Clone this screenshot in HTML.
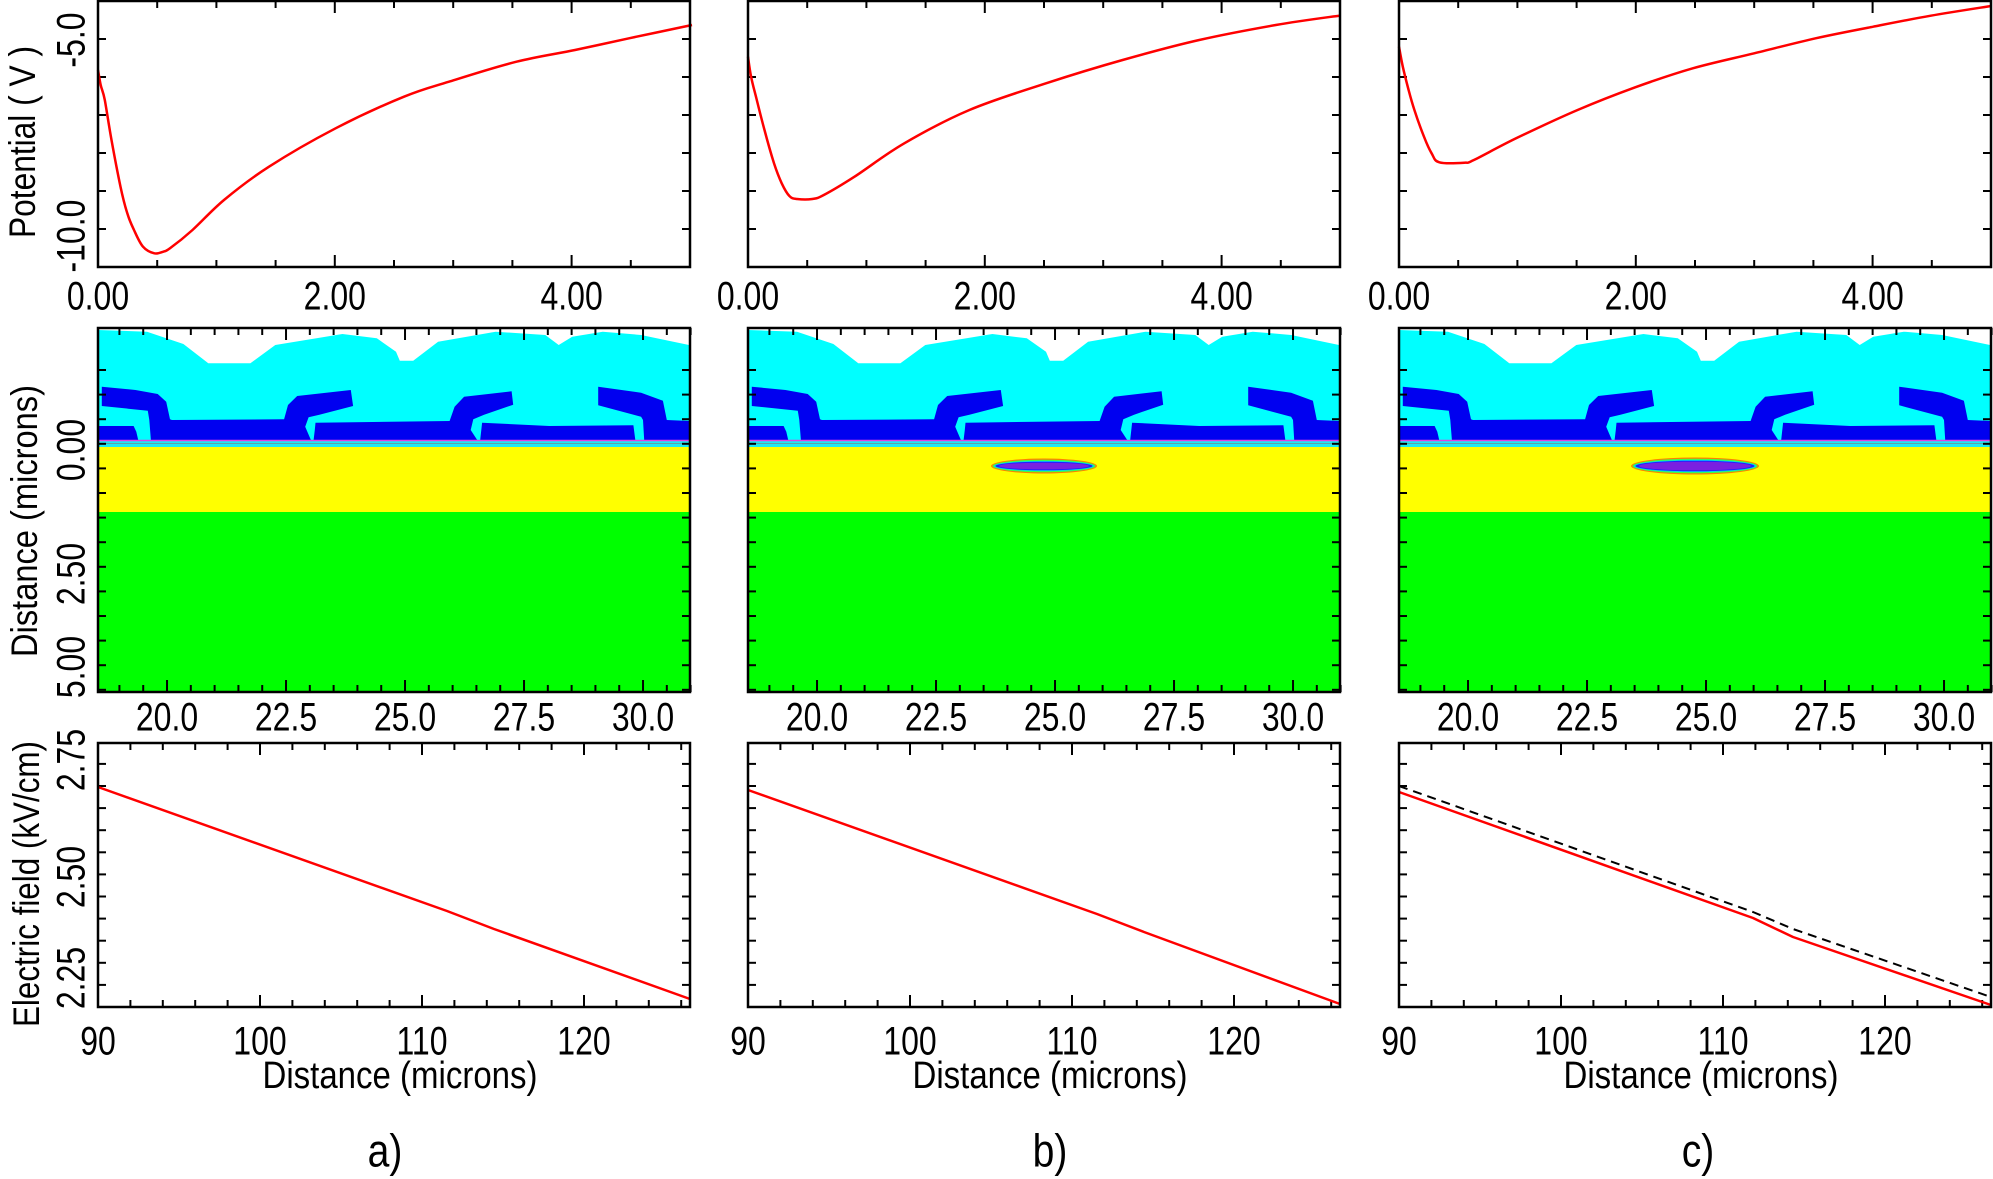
<!DOCTYPE html>
<html><head><meta charset="utf-8">
<style>
html,body{margin:0;padding:0;background:#fff;}
svg{display:block;}
text{font-family:"Liberation Sans",Arial,sans-serif;fill:#000;}
</style></head>
<body>
<svg id="s" xmlns="http://www.w3.org/2000/svg" width="1993" height="1179" viewBox="0 0 1993 1179"></svg>
<script>
var S=document.getElementById('s');var h='';
var X0=[98,748,1399],W=592;
var FS=40,SX=0.8;
function T(x,y,s,fs,rot,sx){sx=sx||1;
 h+='<text transform="translate('+x+','+y+')'+(rot?' rotate(-90)':'')+' scale('+sx+',1)" x="0" y="'+(0.36*fs)+'" font-size="'+fs+'" text-anchor="middle">'+s+'</text>';}
function L(x1,y1,x2,y2,w,c){h+='<line x1="'+x1+'" y1="'+y1+'" x2="'+x2+'" y2="'+y2+'" stroke="'+(c||'#000')+'" stroke-width="'+(w||2)+'"/>';}
function PL(pts,c,w,dash){h+='<polyline fill="none" stroke="'+c+'" stroke-width="'+w+'" stroke-linejoin="round" '+(dash?'stroke-dasharray="'+dash+'" ':'')+'points="'+pts.map(function(p){return p[0].toFixed(1)+','+p[1].toFixed(1)}).join(' ')+'"/>';}
function SM(p,c,w){var d='M'+p[0][0].toFixed(1)+','+p[0][1].toFixed(1);
 for(var i=0;i<p.length-1;i++){var p0=p[i>0?i-1:i],p1=p[i],p2=p[i+1],p3=p[i+2<p.length?i+2:i+1];
  var c1=[p1[0]+(p2[0]-p0[0])/6,p1[1]+(p2[1]-p0[1])/6],c2=[p2[0]-(p3[0]-p1[0])/6,p2[1]-(p3[1]-p1[1])/6];
  d+=' C'+c1[0].toFixed(1)+','+c1[1].toFixed(1)+' '+c2[0].toFixed(1)+','+c2[1].toFixed(1)+' '+p2[0].toFixed(1)+','+p2[1].toFixed(1);}
 h+='<path d="'+d+'" fill="none" stroke="'+c+'" stroke-width="'+w+'"/>';}
function PG(pts,c){h+='<polygon fill="'+c+'" points="'+pts.map(function(p){return p[0].toFixed(1)+','+p[1].toFixed(1)}).join(' ')+'"/>';}
function frame(x0,y0,y1){h+='<rect x="'+x0+'" y="'+y0+'" width="'+W+'" height="'+(y1-y0)+'" fill="none" stroke="#000" stroke-width="2.5"/>';}
function xt(x,y0,y1,len){L(x,y1,x,y1-len,2);L(x,y0,x,y0+len,2);}
function yt(x0,y,len){L(x0,y,x0+len,y,2);L(x0+W,y,x0+W-len,y,2);}

var ca=[[220,210],[226,255],[235,300],[250,420],[270,560],[285,640],[300,690],[320,740],[345,760],[365,755],[380,745],[430,690],[500,600],[600,500],[748,385],[900,290],[1000,245],[1150,185],[1280,150],[1400,115],[1540,75]].map(function(p){return [(p[0]-220)*0.45,p[1]/3]});
var cb=[[22,170],[30,230],[45,300],[65,390],[90,490],[110,550],[130,588],[150,597],[190,597],[220,585],[300,530],[430,430],[600,330],[800,250],[1000,180],[1200,120],[1400,75],[1565,47]].map(function(p){return [(p[0]-22)*0.383,p[1]/3]});
var cc=[[15,140],[25,200],[40,270],[55,330],[80,410],[100,460],[120,487],[185,488],[210,480],[320,415],[480,330],[630,262],[780,205],[940,160],[1100,115],[1250,80],[1400,47],[1557,18]].map(function(p){return [(p[0]-15)*0.384,p[1]/3]});
var curves=[ca,cb,cc];

function cv(a){return a.map(function(p){return [(p[0]-22)*0.383,320+p[1]/3]});}
var cyan=cv([[22,30],[150,35],[245,72],[310,130],[420,130],[485,75],[660,42],[750,55],[800,95],[810,122],[845,122],[910,65],[1060,35],[1190,45],[1225,75],[1260,50],[1340,35],[1440,45],[1565,75],[1565,380],[22,380]]);
var blues=[
 cv([[22,318],[115,318],[122,335],[127,360],[22,360]]),
 cv([[32,200],[120,210],[178,222],[200,245],[210,298],[215,300],[508,298],[518,255],[542,228],[682,210],[688,258],[600,284],[572,292],[563,320],[578,360],[160,360],[156,300],[152,272],[32,258]]),
 cv([[590,308],[940,303],[953,260],[978,230],[1102,214],[1106,254],[1030,284],[1002,298],[995,330],[1012,360],[585,360],[588,330]]),
 cv([[1025,308],[1200,318],[1420,316],[1425,360],[1020,360]]),
 cv([[1328,200],[1440,218],[1497,242],[1507,300],[1565,303],[1565,360],[1448,360],[1445,300],[1440,290],[1328,256]])
];

for(var i=0;i<3;i++){
 var x0=X0[i];
 for(var v=0;v<=5.001;v+=0.5){var x=x0+v*W/5;var mj=Math.abs(v%2)<0.01;xt(x,1,267,mj?12:7);}
 for(var V=-10;V<=-5;V++){yt(x0,267-(V+11)*38,8);}
 SM(curves[i].map(function(p){return [x0+p[0],p[1]]}),'#ff0000',2.5);
 frame(x0,1,267);
 ['0.00','2.00','4.00'].forEach(function(s,k){T(x0+k*2*W/5,295,s,FS,false,SX);});
 var yA=328,yB=692;
 h+='<rect x="'+x0+'" y="'+yA+'" width="'+W+'" height="'+(yB-yA)+'" fill="#fff"/>';
 PG(cyan.map(function(p){return [x0+p[0],p[1]]}),'#00ffff');
 blues.forEach(function(b){PG(b.map(function(p){return [x0+p[0],p[1]]}),'#0000f0');});
 h+='<rect x="'+x0+'" y="440" width="'+W+'" height="7" fill="#20e8f0"/>';
 L(x0,440.5,x0+W,440.5,1.5,'#e040e0');L(x0,443.5,x0+W,443.5,1,'#60a0a8');
 h+='<rect x="'+x0+'" y="447" width="'+W+'" height="65" fill="#ffff00"/>';
 h+='<rect x="'+x0+'" y="512" width="'+W+'" height="'+(yB-512)+'" fill="#00ff00"/>';
 if(i>0){var ex=x0+296,ey=466,rx=i==1?53:64,ry=i==1?7.5:8.5;
  h+='<ellipse cx="'+ex+'" cy="'+ey+'" rx="'+rx+'" ry="'+ry+'" fill="#ff8000"/>';
  h+='<ellipse cx="'+ex+'" cy="'+ey+'" rx="'+(rx-1.5)+'" ry="'+(ry-1.2)+'" fill="#40ff40"/>';
  h+='<ellipse cx="'+ex+'" cy="'+ey+'" rx="'+(rx-3)+'" ry="'+(ry-2.4)+'" fill="#00d0ff"/>';
  h+='<ellipse cx="'+ex+'" cy="'+ey+'" rx="'+(rx-4.5)+'" ry="'+(ry-3.2)+'" fill="#2020ff"/>';
  h+='<ellipse cx="'+ex+'" cy="'+ey+'" rx="'+(rx-8)+'" ry="'+(ry-4.2)+'" fill="#7a20e0"/>';}
 for(var v=19;v<=31.001;v+=0.5){var x=x0+(v-18.55)*47.6;var mj=Math.abs((v-20)/2.5-Math.round((v-20)/2.5))<0.01;xt(x,yA,yB,mj?12:7);}
 for(var y=370;y<690;y+=24.6){yt(x0,y,8);}
 frame(x0,yA,yB);
 ['20.0','22.5','25.0','27.5','30.0'].forEach(function(s,k){T(x0+(1.45+k*2.5)*47.6,716,s,FS,false,SX);});
 var yC=743,yD=1007;
 for(var v=90;v<=126.01;v+=2){var x=x0+(v-90)*16.2;var mj=(v%10)==0;xt(x,yC,yD,mj?12:7);}
 for(var k=0;k<=11;k++){var y=yD-(k*0.05)*442;if(y>yC+2&&y<yD-2)yt(x0,y,8);}
 var ln=[[[0,787],[349,911],[396,929],[592,999]],[[0,790],[349,914],[396,932],[592,1004]],[[0,792],[354,918],[394,937],[592,1005]]][i];
 if(i==2){PL([[0,786],[354,912],[394,929],[592,997]].map(function(p){return [x0+p[0],p[1]]}),'#000',2,'9,6');}
 PL(ln.map(function(p){return [x0+p[0],p[1]]}),'#ff0000',2.5);
 frame(x0,yC,yD);
 ['90','100','110','120'].forEach(function(s,k){T(x0+k*10*16.2,1040,s,FS,false,SX);});
 h+='<text x="'+(x0+302)+'" y="1088" font-size="38" text-anchor="middle" textLength="275" lengthAdjust="spacingAndGlyphs">Distance (microns)</text>';
 T([385,1050,1698][i],1150,['a)','b)','c)'][i],46,false,0.85);
}
T(70,40,'-5.0',FS,true,SX);T(70,236,'-10.0',FS,true,SX);
T(70,450,'0.00',FS,true,SX);T(70,574,'2.50',FS,true,SX);T(70,667,'5.00',FS,true,SX);
T(70,760,'2.75',FS,true,SX);T(70,877,'2.50',FS,true,SX);T(70,978,'2.25',FS,true,SX);
h+='<text transform="translate(35,142) rotate(-90)" font-size="37" text-anchor="middle" textLength="192" lengthAdjust="spacingAndGlyphs">Potential ( V )</text>';
h+='<text transform="translate(37,521) rotate(-90)" font-size="37" text-anchor="middle" textLength="272" lengthAdjust="spacingAndGlyphs">Distance (microns)</text>';
h+='<text transform="translate(39,884) rotate(-90)" font-size="37" text-anchor="middle" textLength="286" lengthAdjust="spacingAndGlyphs">Electric field (kV/cm)</text>';
S.innerHTML=h;
</script>
</body></html>
